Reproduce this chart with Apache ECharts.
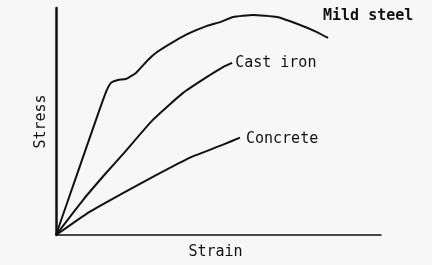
<!DOCTYPE html>
<html><head><meta charset="utf-8">
<script src="https://cdn.jsdelivr.net/npm/echarts@6/dist/echarts.min.js"></script>
<style>html,body{margin:0;padding:0;background:#f7f7f7}#c{width:432px;height:265px}</style>
</head><body><div id="c"></div>
<script>
const mildSteel = [[0,0],[6.2,25.6],[12.3,50.7],[15.4,63.0],[16.9,67.0],[19.1,68.3],[21.5,68.7],[24.6,71.4],[28.3,77.1],[31.1,80.6],[36.0,85.0],[41.2,89.0],[46.5,92.1],[50.5,93.8],[54.5,96.0],[60.6,96.9],[68.0,96.0],[75.1,92.5],[80.3,89.4],[83.7,86.8]];
const castIron = [[0,0],[8.3,15.4],[15.4,27.3],[20.6,35.6],[29.8,50.7],[39.1,62.6],[47.4,70.5],[51.4,74.0],[54.2,75.8]];
const concrete = [[0,0],[10.2,10.1],[20.6,18.5],[30.8,26.4],[40.9,33.9],[51.4,39.8],[56.6,42.9]];
const seriesNames = ['Mild steel','Cast iron','Concrete'];
const axisNames = ['Strain','Stress'];

const font = '"DejaVu Sans Mono", monospace';
function mk(name, data, offset, bold) {
  return {
    type: 'line', name: name, data: data, smooth: 0.15, symbol: 'none',
    lineStyle: {color: '#111', width: 2},
    endLabel: {show: true, formatter: name, color: '#111', fontFamily: font,
      fontSize: 15, fontWeight: bold ? 'bold' : 'normal', distance: 3, offset: offset}
  };
}
const chart = echarts.init(document.getElementById('c'));
chart.setOption({
  backgroundColor: '#f7f7f7',
  animation: false,
  grid: {left: 56, right: 51, top: 8, bottom: 30},
  xAxis: {type: 'value', min: 0, max: 100, name: axisNames[0], nameLocation: 'middle', nameGap: 10,
    nameTextStyle: {color: '#111', fontFamily: font, fontSize: 15, padding: [0, 6, 0, 0]},
    axisLine: {lineStyle: {color: '#111', width: 1.5}}, axisTick: {show: false},
    axisLabel: {show: false}, splitLine: {show: false}},
  yAxis: {type: 'value', min: 0, max: 100, name: axisNames[1], nameLocation: 'middle', nameGap: 7,
    nameTextStyle: {color: '#111', fontFamily: font, fontSize: 15},
    axisLine: {show: true, lineStyle: {color: '#111', width: 2.5}}, axisTick: {show: false},
    axisLabel: {show: false}, splitLine: {show: false}},
  series: [
    mk(seriesNames[0], mildSteel, [-8, -22], true),
    mk(seriesNames[1], castIron, [0, 0], false),
    mk(seriesNames[2], concrete, [3, 1], false)
  ]
});
</script></body></html>
